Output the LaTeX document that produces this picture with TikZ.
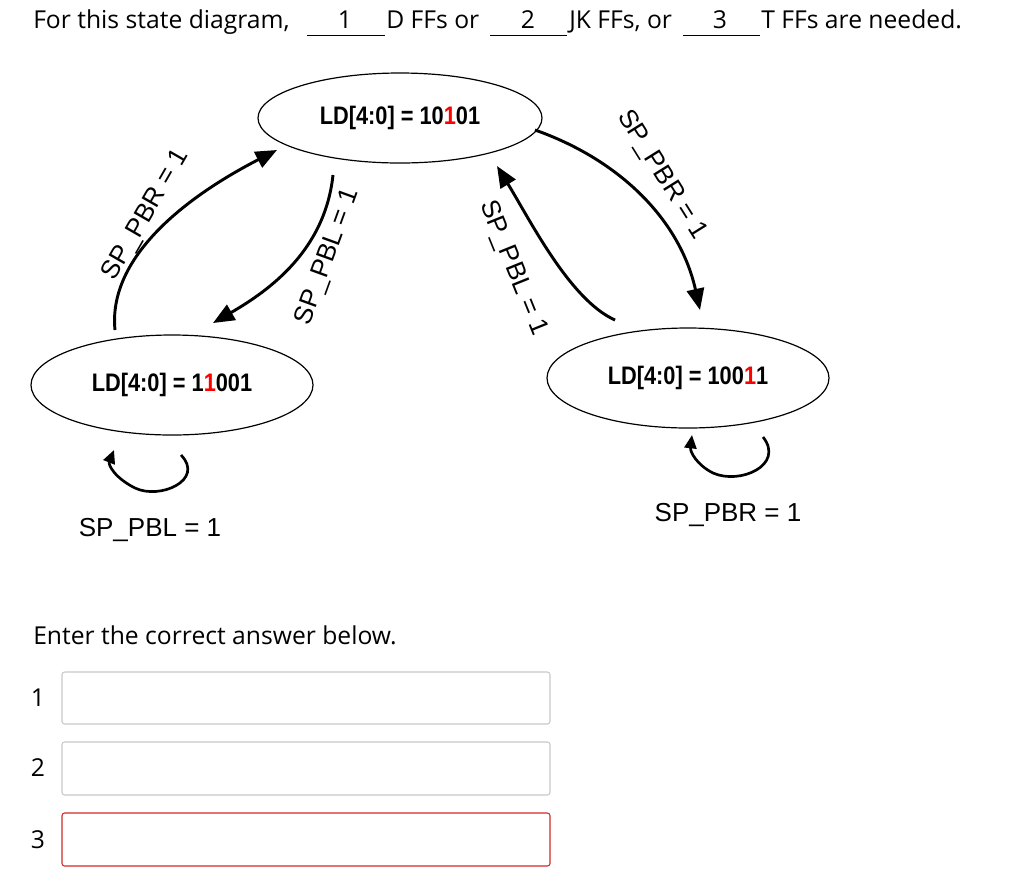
\documentclass[tikz,border=0pt]{standalone}
\usepackage{fontspec}
\setmainfont{Open Sans}
\newfontfamily\arial{Liberation Sans}
\usetikzlibrary{arrows.meta,shapes.geometric}
\definecolor{boxgray}{RGB}{200,200,200}
\definecolor{errred}{RGB}{210,40,40}
\begin{document}
\begin{tikzpicture}[x=0.75pt,y=-0.75pt,
  st/.style={draw,ellipse,line width=0.9pt,inner sep=0pt},
  tr/.style={line width=2.2pt,-{Triangle[length=16pt,width=13pt]}},
  lp/.style={line width=2pt,-{Triangle[length=10pt,width=9pt]}},
  lab/.style={font=\arial\fontsize{19.5}{19.5}\selectfont},
  stt/.style={font=\arial\bfseries\fontsize{19}{19}\selectfont,xscale=0.86},
  pg/.style={font=\fontsize{18.5}{18.5}\selectfont,anchor=base west,inner sep=0pt},
  inbox/.style={draw=boxgray,rounded corners=2pt,line width=0.8pt}]
\useasboundingbox (0,0) rectangle (1024,876);
\node[pg] (t1) at (33,28) {For this state diagram,};
\draw (307,35) -- (385,35);
\node[pg,anchor=base] (b1) at (345,28) {1};
\node[pg] (t2) at (386,28) {D FFs or};
\draw (490,35) -- (567,35);
\node[pg,anchor=base] (b2) at (528,28) {2};
\node[pg] (t3) at (569,28) {JK FFs, or};
\draw (683,35) -- (760,35);
\node[pg,anchor=base] (b3) at (720,28) {3};
\node[pg] (t4) at (761,28) {T FFs are needed.};

\node[st,minimum width=213pt,minimum height=67.5pt] (top) at (400,118) {};
\node[stt] at (400,118) {LD[4:0] = 10\textcolor{red}{1}01};
\node[st,minimum width=211.5pt,minimum height=75pt] (L) at (172,385) {};
\node[stt] at (172,385) {LD[4:0] = 1\textcolor{red}{1}001};
\node[st,minimum width=211.5pt,minimum height=75pt] (R) at (688,378) {};
\node[stt] at (688,378) {LD[4:0] = 100\textcolor{red}{1}1};

\coordinate (a1) at (115,330); \coordinate (a2) at (277,150);
\draw[tr] (a1) .. controls (108,260) and (180,200) .. (a2);
\coordinate (b1s) at (333,175); \coordinate (b1e) at (213,323);
\draw[tr] (b1s) .. controls (325,250) and (270,290) .. (b1e);
\coordinate (c1) at (615,320); \coordinate (c2) at (497,166);
\draw[tr] (c1) .. controls (570,300) and (530,220) .. (c2);
\coordinate (d1) at (535,130); \coordinate (d2) at (700,310);
\draw[tr] (d1) .. controls (620,160) and (680,220) .. (d2);

\node[lab,rotate=60] (l1) at (146,215) {SP\_PBR = 1};
\node[lab,rotate=70] (l2) at (328,257) {SP\_PBL = 1};
\node[lab,rotate=-68] (l3) at (513,268) {SP\_PBL = 1};
\node[lab,rotate=-58] (l4) at (662,175) {SP\_PBR = 1};

\coordinate (e1) at (181,455); \coordinate (e2) at (114,450);
\draw[lp] (e1) .. controls (205,480) and (160,500) .. (135,488) .. controls (115,478) and (108,465) .. (e2);
\coordinate (f1) at (763,437); \coordinate (f2) at (692,435);
\draw[lp] (f1) .. controls (785,465) and (740,485) .. (713,473) .. controls (697,465) and (690,452) .. (f2);
\node[lab] (s1) at (150,530) {SP\_PBL = 1};
\node[lab] (s2) at (728,515) {SP\_PBR = 1};

\node[pg] (enter) at (33,644) {Enter the correct answer below.};
\node[pg,anchor=base] (n1) at (38,706) {1};
\node[pg,anchor=base] (n2) at (38,776) {2};
\node[pg,anchor=base] (n3) at (38,848) {3};
\draw[inbox] (62,672) rectangle (550,724);
\draw[inbox] (62,742) rectangle (550,795);
\draw[inbox,draw=errred] (62,813) rectangle (550,866);
\end{tikzpicture}
\end{document}
